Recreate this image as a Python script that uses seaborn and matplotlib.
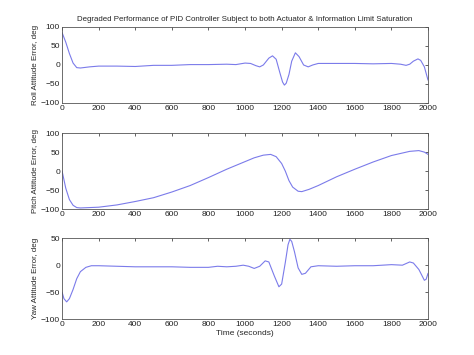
import pandas as pd
import matplotlib.pyplot as plt
import seaborn as sns

# time (s) and attitude errors (deg)
roll_t = [0, 20, 40, 60, 80, 100, 150, 200, 300, 400, 500, 600, 700, 800, 900, 950,
          1000, 1030, 1060, 1080, 1100, 1130, 1150, 1170, 1190, 1205, 1215, 1225, 1240,
          1255, 1275, 1295, 1320, 1345, 1370, 1400, 1500, 1600, 1700, 1800, 1850, 1880,
          1900, 1920, 1945, 1960, 1980, 2000]
roll_err = [85, 60, 30, 5, -7, -8, -5, -3, -3, -4, -1, -1, 1, 1, 2, 1,
            5, 4, -2, -5, 0, 18, 24, 15, -20, -45, -53, -48, -25,
            10, 32, 22, 0, -5, 0, 4, 4, 4, 3, 4, 2, -1,
            2, 10, 16, 12, -5, -40]

pitch_t = [0, 20, 40, 60, 80, 100, 200, 300, 400, 500, 600, 700, 800, 900, 1000, 1050,
           1100, 1140, 1170, 1200, 1220, 1240, 1260, 1290, 1310, 1350, 1400, 1500, 1600,
           1700, 1800, 1900, 1950, 1980, 2000]
pitch_err = [0, -45, -75, -90, -96, -97, -95, -89, -80, -70, -55, -38, -17, 5, 25, 35,
             42, 44, 38, 20, 0, -25, -42, -53, -54, -48, -38, -15, 5,
             24, 41, 52, 54, 50, 44]

yaw_t = [0, 10, 25, 40, 60, 80, 100, 130, 160, 200, 300, 400, 600, 700, 800, 850, 900,
         950, 990, 1020, 1050, 1080, 1110, 1130, 1160, 1185, 1200, 1220, 1235, 1245,
         1255, 1270, 1290, 1310, 1330, 1360, 1400, 1500, 1600, 1700, 1800, 1860, 1900,
         1920, 1950, 1980, 1990, 2000]
yaw_err = [-50, -62, -68, -62, -45, -25, -12, -4, -1, -1, -2, -3, -3, -4, -4, -2, -3,
           -2, 0, -2, -6, -2, 8, 6, -20, -40, -35, 5, 38, 48,
           44, 25, -5, -17, -15, -3, -1, -2, -1, -1, 1, 0, 6,
           4, -8, -28, -26, -15]

sns.set_style("white")
plt.rcParams['font.family'] = ['Liberation Sans', 'DejaVu Sans']
plt.rcParams['font.size'] = 6

line_color = '#7b7bea'
fig = plt.figure(figsize=(4.74, 3.55), dpi=100)

panels = [
    (roll_t, roll_err, 'Roll Attitude Error, deg', (-100, 100), [-100, -50, 0, 50, 100],
     [0.131, 0.710, 0.772, 0.214]),
    (pitch_t, pitch_err, 'Pitch Attitude Error, deg', (-100, 100), [-100, -50, 0, 50, 100],
     [0.131, 0.411, 0.772, 0.214]),
    (yaw_t, yaw_err, 'Yaw Attitude Error, deg', (-100, 50), [-100, -50, 0, 50],
     [0.131, 0.101, 0.772, 0.228]),
]

axes = []
for t, err, label, ylim, yticks, rect in panels:
    ax = fig.add_axes(rect)
    df = pd.DataFrame({'t': t, 'err': err})
    sns.lineplot(data=df, x='t', y='err', ax=ax, color=line_color, linewidth=0.8)
    ax.set_xlim(0, 2000)
    ax.set_ylim(*ylim)
    ax.set_xticks(range(0, 2001, 200))
    ax.set_yticks(yticks)
    ax.set_ylabel(label, fontsize=5.8, labelpad=1)
    ax.set_xlabel('')
    ax.tick_params(direction='in', length=2.5, width=0.5, labelsize=6, pad=1.5,
                   top=True, right=True, colors='#222222')
    for s in ax.spines.values():
        s.set_linewidth(0.6)
        s.set_color('#555555')
    axes.append(ax)

axes[0].set_title('Degraded Performance of PID Controller Subject to both Actuator & Information Limit Saturation',
                  fontsize=5.7, pad=4)
axes[2].set_xlabel('Time (seconds)', fontsize=6, labelpad=1)

plt.savefig('out.png', dpi=100)
